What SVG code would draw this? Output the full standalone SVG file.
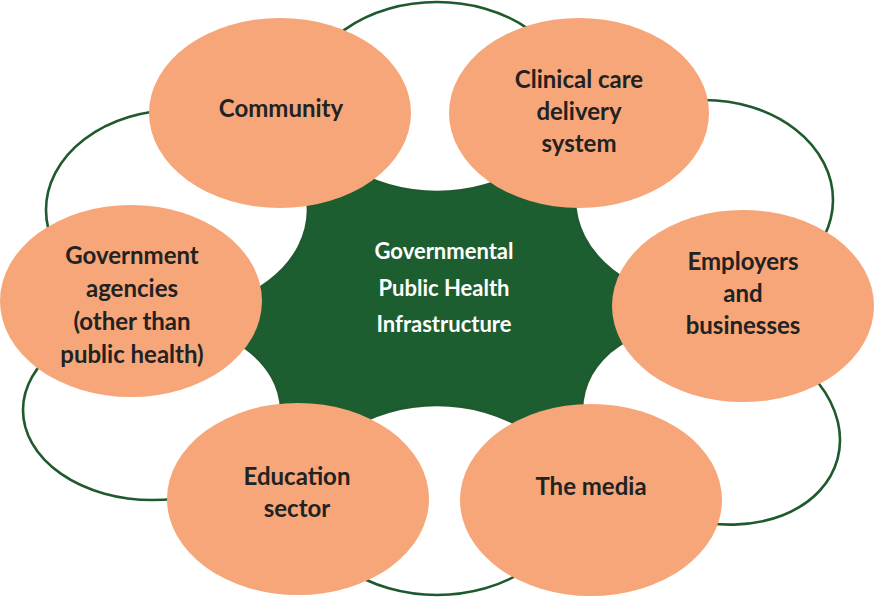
<svg xmlns="http://www.w3.org/2000/svg" width="874" height="597" viewBox="0 0 874 597">
<style>
.ring{fill:#ffffff;stroke:#1E5A2D;stroke-width:2.6}
.node{fill:#F6A679}
.lbl{font-family:Lato,"Open Sans",sans-serif;font-weight:700;font-size:24px;fill:#222222;text-anchor:middle}
.clbl{font-family:Lato,"Open Sans",sans-serif;font-weight:700;font-size:22px;fill:#ffffff;text-anchor:middle}
</style>
<rect width="874" height="597" fill="#ffffff"/>
<g id="hub">
<ellipse cx="437" cy="300" rx="230" ry="170" fill="#1D5E31"/>
</g>
<g id="ring">
<ellipse class="ring" cx="437" cy="97" rx="131" ry="95"/>
<ellipse class="ring" cx="704" cy="200" rx="129" ry="100"/>
<ellipse class="ring" cx="711" cy="425" rx="131" ry="97" transform="rotate(15 711 425)"/>
<ellipse class="ring" cx="437" cy="500" rx="131" ry="95"/>
<ellipse class="ring" cx="152" cy="410" rx="129" ry="90"/>
<ellipse class="ring" cx="177" cy="210" rx="131" ry="100"/>
</g>
<g id="hub-label">
<text class="clbl" x="444" y="259">Governmental</text>
<text class="clbl" x="444" y="296">Public Health</text>
<text class="clbl" x="444" y="332">Infrastructure</text>
</g>
<g id="community">
<ellipse class="node" cx="280" cy="113" rx="131" ry="95"/>
<text class="lbl" x="281" y="117">Community</text>
</g>
<g id="clinical">
<ellipse class="node" cx="579" cy="113" rx="130" ry="95"/>
<text class="lbl" x="579" y="88">Clinical care</text>
<text class="lbl" x="579" y="120">delivery</text>
<text class="lbl" x="579" y="152">system</text>
</g>
<g id="government">
<ellipse class="node" cx="131" cy="301" rx="131" ry="96"/>
<text class="lbl" x="132" y="264">Government</text>
<text class="lbl" x="132" y="297">agencies</text>
<text class="lbl" x="132" y="330">(other than</text>
<text class="lbl" x="132" y="363">public health)</text>
</g>
<g id="employers">
<ellipse class="node" cx="743" cy="306" rx="131" ry="96"/>
<text class="lbl" x="743" y="270">Employers</text>
<text class="lbl" x="743" y="302">and</text>
<text class="lbl" x="743" y="334">businesses</text>
</g>
<g id="education">
<ellipse class="node" cx="298" cy="499" rx="131" ry="96"/>
<text class="lbl" x="297" y="485">Education</text>
<text class="lbl" x="297" y="517">sector</text>
</g>
<g id="media">
<ellipse class="node" cx="591" cy="500" rx="131" ry="96"/>
<text class="lbl" x="591" y="495">The media</text>
</g>
<g id="connectors"/>
</svg>
